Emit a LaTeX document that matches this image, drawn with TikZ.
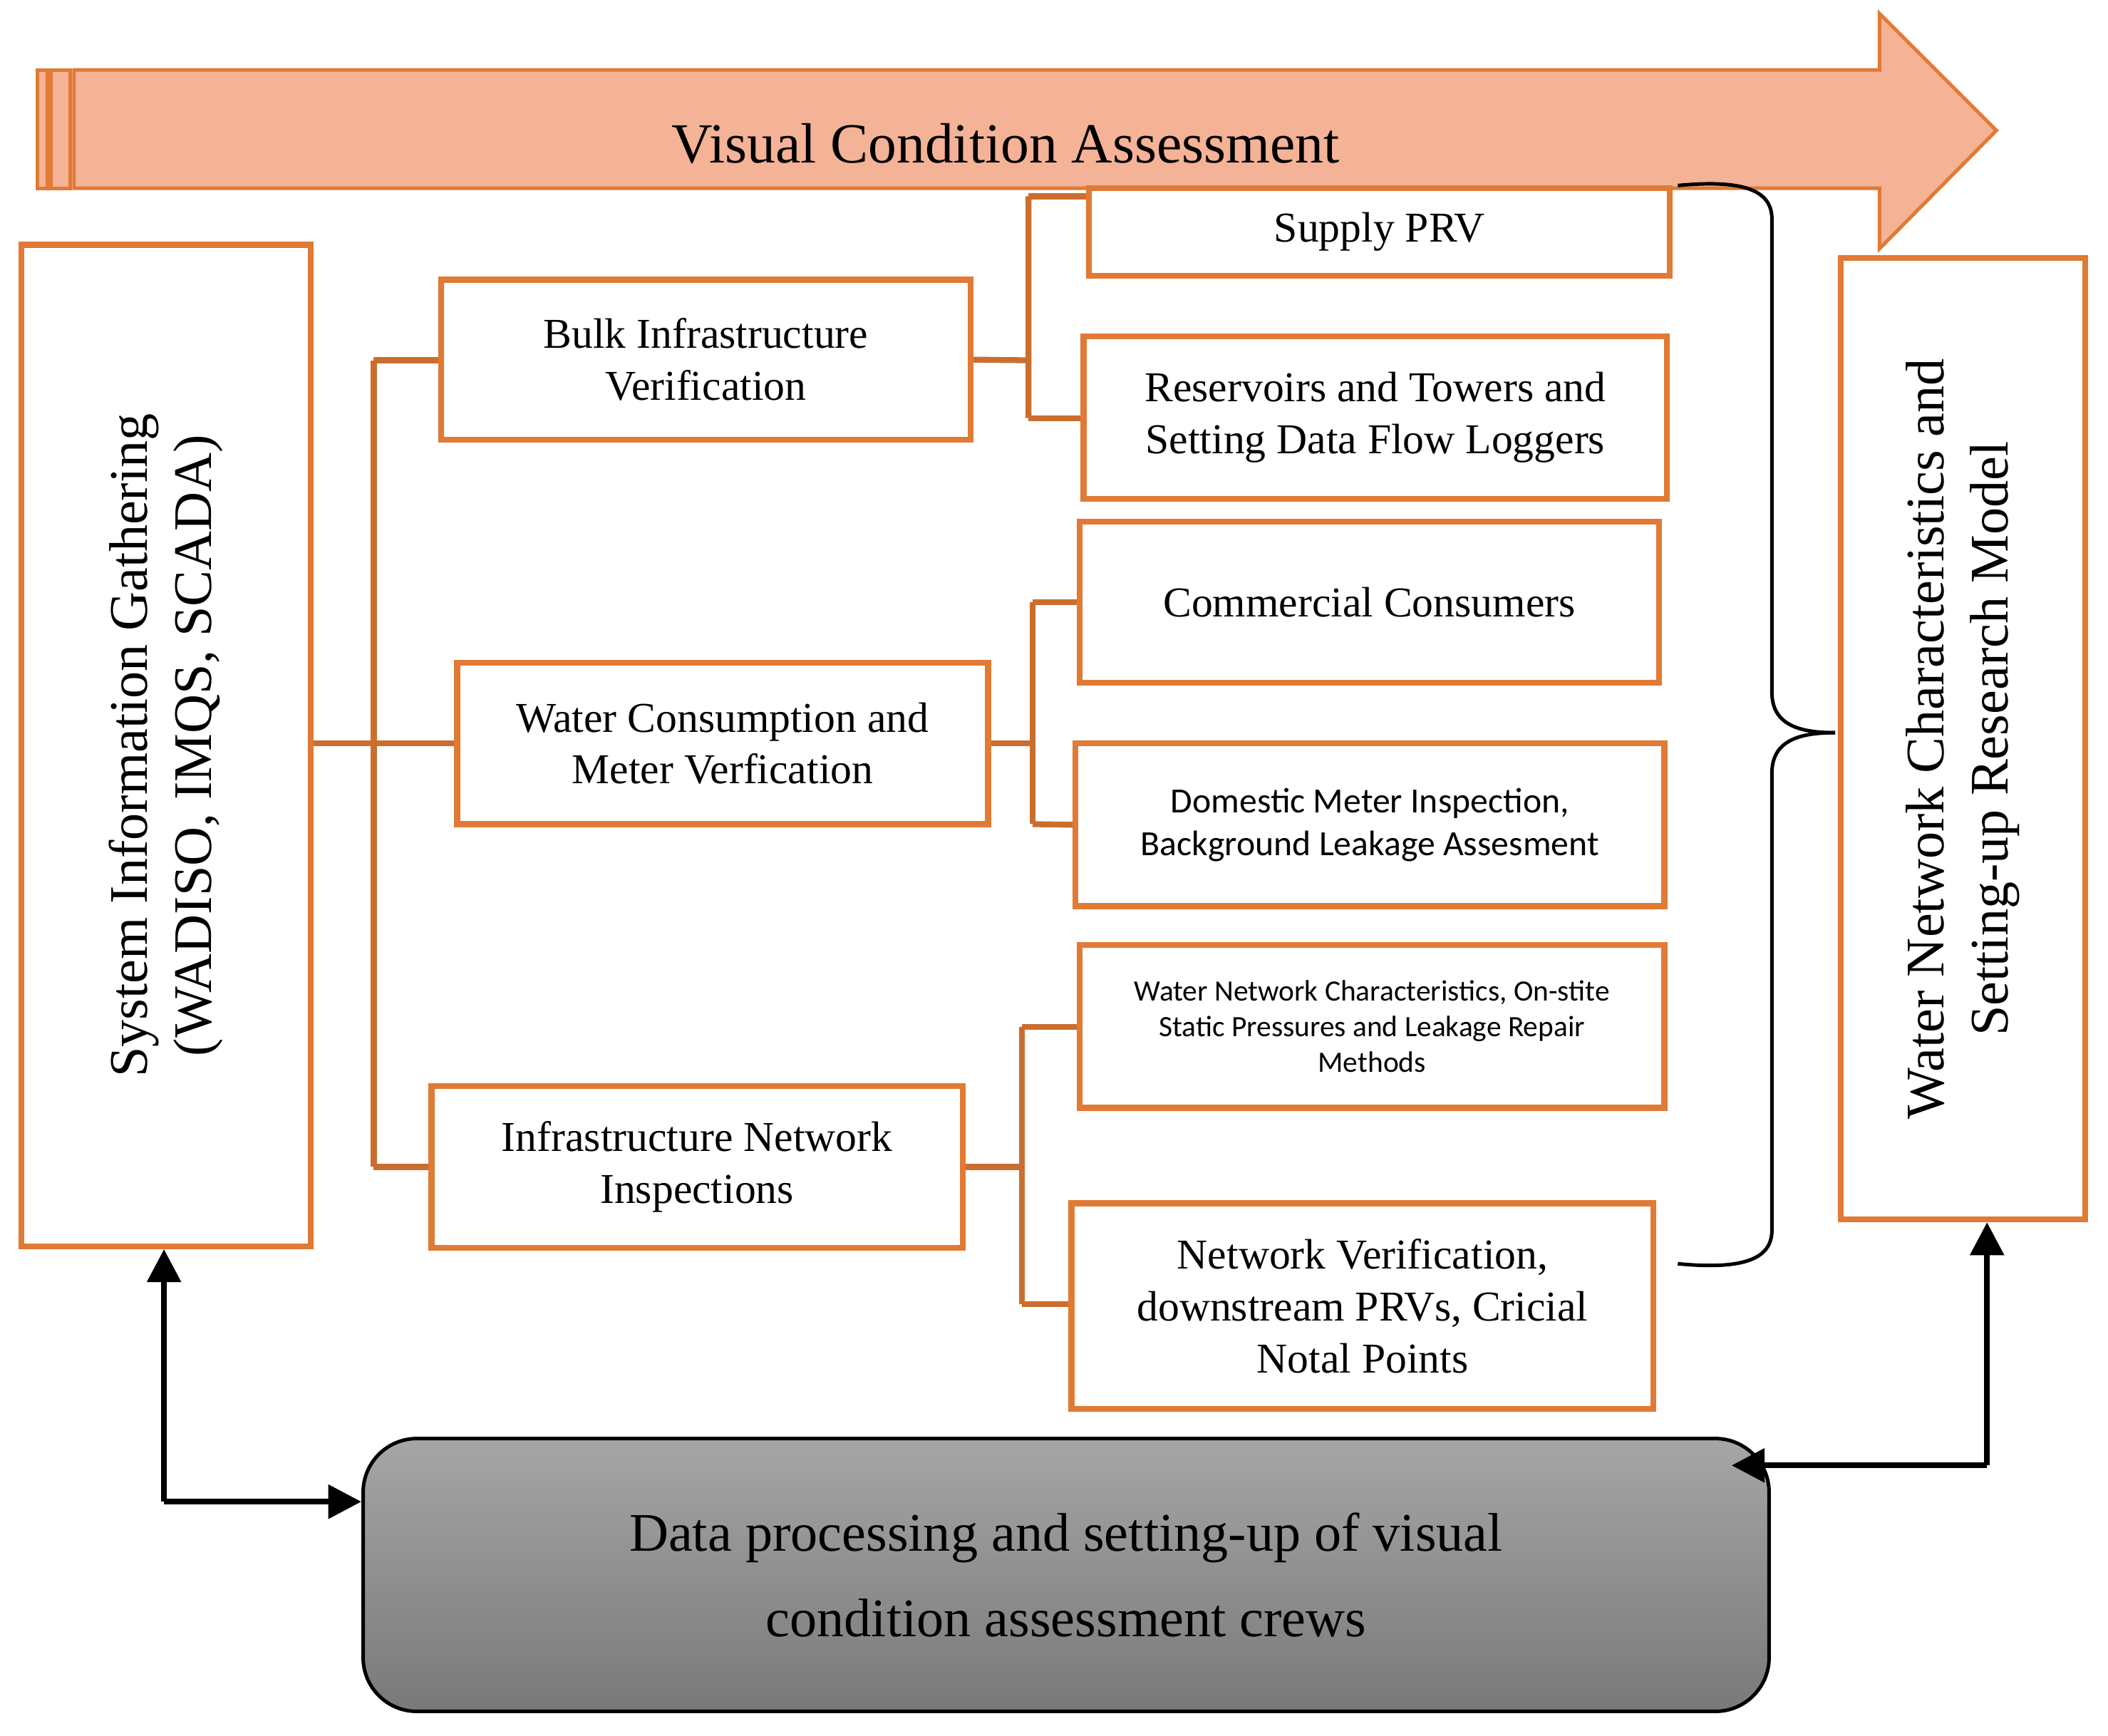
\documentclass[tikz,border=0pt]{standalone}
\usepackage{fontspec}
\setmainfont{Liberation Serif}
\newfontfamily\calib{Carlito}
\usetikzlibrary{positioning,shapes.arrows,decorations.pathreplacing,arrows.meta}
\definecolor{borange}{HTML}{E07A34}
\definecolor{salmon}{HTML}{F4B296}
\tikzset{
  box/.style={draw=borange, line width=2.5pt, align=center, inner sep=2pt},
  link/.style={draw=borange!90!black, line width=2.5pt},
  blk/.style={line width=2.5pt, -{Triangle[length=14pt,width=14pt]}}
}
\begin{document}
\begin{tikzpicture}[x=0.02cm,y=-0.02cm]
\useasboundingbox (0,0) rectangle (1568,1291);
% big arrow
\fill[salmon] (28,52) rectangle (35,140);
\draw[borange,line width=1.5pt] (28,52) rectangle (35,140);
\fill[salmon] (38,52) rectangle (52,140);
\draw[borange,line width=1.5pt] (38,52) rectangle (52,140);
\draw[borange,line width=1.5pt,fill=salmon] (55,52) -- (1398,52) -- (1398,10) -- (1485,97) -- (1398,185) -- (1398,140) -- (55,140) -- cycle;
\node[font=\fontsize{24}{28}\selectfont] (title) at (748,107) {Visual Condition Assessment};

% boxes
\node[box, minimum width=4.3cm, minimum height=14.9cm] (sys) at (123.5,554.5) {};
\node[rotate=90, align=center, font=\fontsize{23}{27}\selectfont] at (sys.center) {System Information Gathering\\(WADISO, IMQS, SCADA)};
\node[box, minimum width=3.64cm, minimum height=14.3cm] (wnc) at (1460,549.5) {};
\node[rotate=90, align=center, font=\fontsize{23}{27}\selectfont] at (wnc.center) {Water Network Characteristics and\\Setting-up Research Model};

\node[box, minimum width=7.88cm, minimum height=2.38cm, font=\fontsize{18}{22}\selectfont] (bulk) at (525,267.5) {Bulk Infrastructure\\Verification};
\node[box, minimum width=7.9cm, minimum height=2.4cm, font=\fontsize{18}{22}\selectfont] (cons) at (537.5,553) {Water Consumption and\\Meter Verfication};
\node[box, minimum width=7.9cm, minimum height=2.4cm, font=\fontsize{18}{22}\selectfont] (infra) at (518.5,868) {Infrastructure Network\\Inspections};

\node[box, minimum width=8.64cm, minimum height=1.3cm, font=\fontsize{18}{22}\selectfont] (prv) at (1026,172.5) {Supply PRV};
\node[box, minimum width=8.68cm, minimum height=2.42cm, font=\fontsize{18}{22}\selectfont] (res) at (1023,310.5) {Reservoirs and Towers and\\Setting Data Flow Loggers};
\node[box, minimum width=8.62cm, minimum height=2.4cm, font=\fontsize{18}{22}\selectfont] (com) at (1018.5,448) {Commercial Consumers};
\node[box, minimum width=8.76cm, minimum height=2.42cm, font=\calib\fontsize{15}{18}\selectfont] (dom) at (1019,613.5) {Domestic Meter Inspection,\\Background Leakage Assesment};
\node[box, minimum width=8.7cm, minimum height=2.42cm, font=\calib\fontsize{12.5}{15}\selectfont] (char) at (1020.5,763.5) {Water Network Characteristics, On-stite\\Static Pressures and Leakage Repair\\Methods};
\node[box, minimum width=8.66cm, minimum height=3.06cm, font=\fontsize{18}{22}\selectfont] (net) at (1013.5,971.5) {Network Verification,\\downstream PRVs, Cricial\\Notal Points};

% data processing
\node[draw=black, line width=1.5pt, rounded corners=0.8cm, top color=gray!70, bottom color=gray!95!black, minimum width=20.92cm, minimum height=4.06cm, align=center, font=\fontsize{23}{36}\selectfont] (data) at (793,1171.5) {Data processing and setting-up of visual\\condition assessment crews};

% connectors
\draw[link] (sys.east|-cons) -- (278,553) (278,268) -- (278,868);
\draw[link] (278,268) -- (bulk.west|-278,268);
\draw[link] (278,553) -- (cons.west);
\draw[link] (278,868) -- (infra.west);
\draw[link] (bulk.east) -- (765,268) (765,146) -- (765,311);
\draw[link] (765,146) -- (prv.west|-765,146);
\draw[link] (765,311) -- (res.west|-765,311);
\draw[link] (cons.east) -- (768,553) (768,448) -- (768,613);
\draw[link] (768,448) -- (com.west);
\draw[link] (768,613) -- (dom.west);
\draw[link] (infra.east) -- (760,868) (760,764) -- (760,970);
\draw[link] (760,764) -- (char.west|-760,764);
\draw[link] (760,970) -- (net.west|-760,970);

% brace
\draw[line width=1.5pt] (1248,940) .. controls (1300,945) and (1318,935) .. (1318,915) -- (1318,575) .. controls (1318,550) and (1340,545) .. (1365,545);
\draw[line width=1.5pt] (1248,138) .. controls (1300,133) and (1318,143) .. (1318,163) -- (1318,515) .. controls (1318,540) and (1340,545) .. (1365,545);

% black arrows
\coordinate (lc) at (122,1117);
\coordinate (rc) at (1478,1090);
\draw[blk] (lc) -- (sys.south-|lc);
\draw[blk] (lc) -- (data.west|-lc);
\draw[blk] (rc) -- (1288,1090);
\draw[blk] (rc) -- (wnc.south-|rc);
\end{tikzpicture}
\end{document}
